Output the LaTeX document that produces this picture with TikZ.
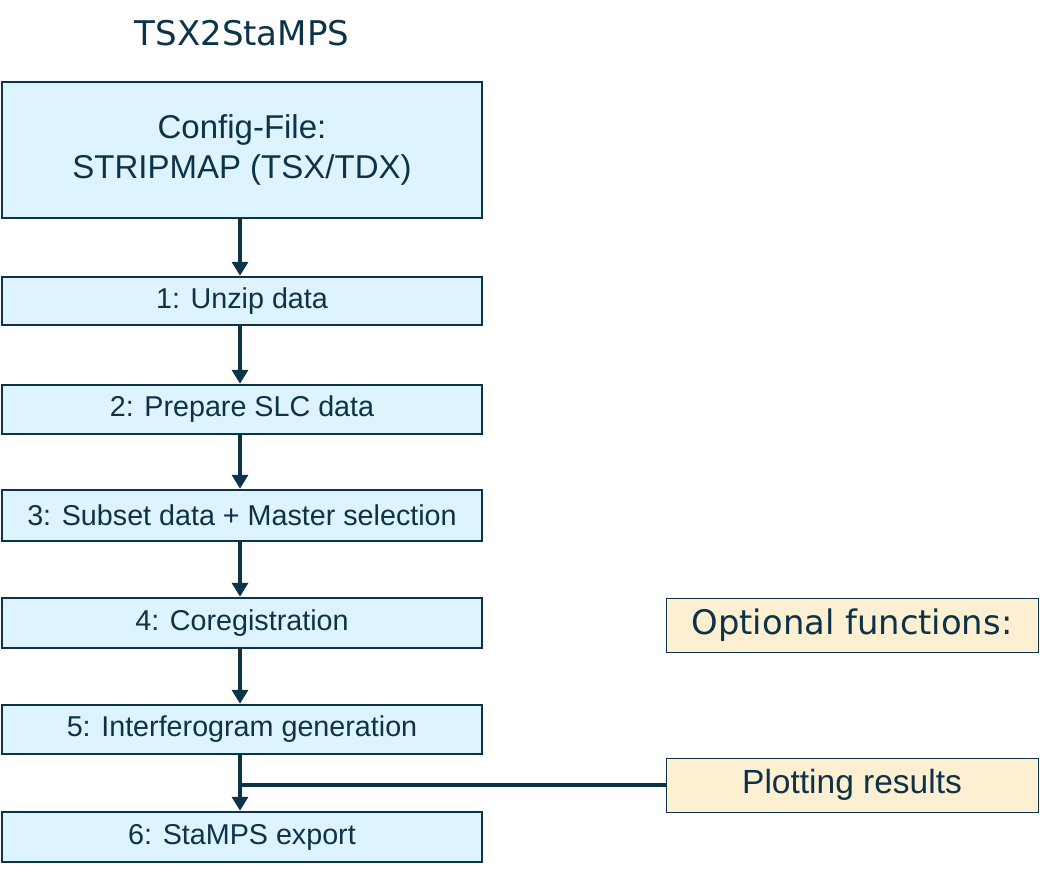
\documentclass[tikz,border=0pt]{standalone}
\usepackage{fontspec}
\setmainfont{Liberation Sans}
\newfontfamily\dvs{DejaVu Sans}
\usetikzlibrary{arrows.meta}
\definecolor{bd}{HTML}{0D3349}
\definecolor{bl}{HTML}{DDF3FD}
\definecolor{og}{HTML}{FDEFD2}
\begin{document}
\begin{tikzpicture}[x=1pt,y=-1pt,
  box/.style={draw=bd,line width=2.5pt,fill=bl,text=bd,minimum width=480pt,inner sep=0pt,align=center,font=\fontsize{28.7}{34}\selectfont},
  obox/.style={draw=bd,line width=1pt,fill=og,text=bd,minimum width=372pt,inner sep=0pt},
  arr/.style={draw=bd,line width=4pt,-{Triangle[length=14pt,width=16pt]}}]
\useasboundingbox (0,0) rectangle (1040,873);
\node[text=bd,font=\dvs\fontsize{34}{40}\selectfont] (t) at (242,33) {TSX2StaMPS};
\node[box,minimum height=136pt,font=\fontsize{33}{40}\selectfont] (c) at (242,150) {Config-File:\\STRIPMAP (TSX/TDX)};
\node[box,minimum height=48pt] (b1) at (242,301) {1: Unzip data};
\node[box,minimum height=49pt] (b2) at (242,409.5) {2: Prepare SLC data};
\node[box,minimum height=51pt] (b3) at (242,515.5) {3: Subset data + Master selection};
\node[box,minimum height=50pt] (b4) at (242,623) {4: Coregistration};
\node[box,minimum height=49pt] (b5) at (242,729.5) {5: Interferogram generation};
\node[box,minimum height=50pt] (b6) at (242,837) {6: StaMPS export};
\node[obox,minimum height=54pt,font=\dvs\fontsize{33.8}{38}\selectfont] (o) at (852,625) {Optional functions:};
\node[obox,minimum height=54pt,font=\fontsize{33.5}{38}\selectfont] (p) at (852,785) {Plotting results};
\foreach \a/\b in {c/b1,b1/b2,b2/b3,b3/b4,b4/b5,b5/b6}
  \draw[arr] (\a.south -| 240,0) -- (\b.north -| 240,0);
\coordinate (j) at (240,785);
\draw[bd,line width=4pt] (p.west) -- (j);
\end{tikzpicture}
\end{document}
